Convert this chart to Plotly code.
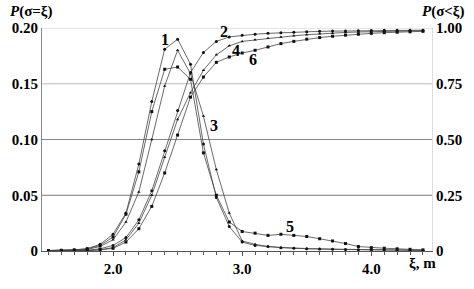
import plotly.graph_objects as go

xi = [1.5, 1.6, 1.7, 1.8, 1.9, 2.0, 2.1, 2.2, 2.3, 2.4, 2.5, 2.6, 2.7, 2.8, 2.9,
      3.0, 3.1, 3.2, 3.3, 3.4, 3.5, 3.6, 3.7, 3.8, 3.9, 4.0, 4.1, 4.2, 4.3, 4.4]

# densities P(sigma = xi) (left axis)
dens1 = [0.0005, 0.0007, 0.001, 0.002, 0.006, 0.015, 0.034, 0.078, 0.134, 0.181, 0.19, 0.1675, 0.096, 0.048, 0.022,
         0.008, 0.005, 0.004, 0.003, 0.0025, 0.002, 0.0018, 0.0015, 0.0013, 0.0012, 0.001, 0.001, 0.0008, 0.0007, 0.0006]
dens3 = [0.0003, 0.0005, 0.0008, 0.0015, 0.004, 0.01, 0.026, 0.053, 0.10, 0.148, 0.18, 0.159, 0.121, 0.073, 0.034,
         0.009, 0.006, 0.004, 0.003, 0.0025, 0.002, 0.0018, 0.0015, 0.0013, 0.0012, 0.001, 0.001, 0.0008, 0.0007, 0.0006]
dens5 = [0.0004, 0.0006, 0.001, 0.002, 0.005, 0.0125, 0.033, 0.071, 0.125, 0.163, 0.165, 0.154, 0.088, 0.05, 0.026,
         0.0175, 0.016, 0.014, 0.015, 0.014, 0.013, 0.011, 0.009, 0.0067, 0.004, 0.003, 0.0025, 0.002, 0.0015, 0.001]

# cumulative P(sigma < xi) (right axis)
cum2 = [0.0, 0.0, 0.001, 0.003, 0.01, 0.025, 0.06, 0.14, 0.27, 0.45, 0.63, 0.80, 0.89, 0.94, 0.96,
        0.967, 0.972, 0.976, 0.979, 0.981, 0.983, 0.985, 0.986, 0.987, 0.988, 0.989, 0.99, 0.99, 0.99, 0.99]
cum4 = [0.0, 0.0, 0.0, 0.002, 0.006, 0.015, 0.05, 0.125, 0.25, 0.42, 0.59, 0.71, 0.81, 0.88, 0.92,
        0.94, 0.947, 0.954, 0.96, 0.965, 0.97, 0.974, 0.977, 0.98, 0.982, 0.984, 0.985, 0.986, 0.987, 0.988]
cum6 = [0.0, 0.0, 0.0, 0.002, 0.005, 0.012, 0.04, 0.10, 0.20, 0.35, 0.52, 0.69, 0.78, 0.846, 0.87,
        0.888, 0.90, 0.915, 0.93, 0.94, 0.95, 0.957, 0.963, 0.968, 0.972, 0.976, 0.979, 0.981, 0.983, 0.985]

left_vals = [0, 0.05, 0.10, 0.15, 0.20]
left_text = ["0", "0.05", "0.10", "0.15", "0.20"]
right_vals = [0, 0.25, 0.5, 0.75, 1.0]
right_text = ["0", "0.25", "0.50", "0.75", "1.00"]
x_vals = [2.0, 3.0, 4.0]
x_text = ["2.0", "3.0", "4.0"]

labels = [("1", 2.40, 0.190), ("2", 2.86, 0.197), ("3", 2.78, 0.1125),
          ("4", 2.95, 0.180), ("5", 3.37, 0.0217), ("6", 3.08, 0.172)]

FONT = "Liberation Serif"
fig = go.Figure()

def add(y, sym, yaxis):
    fig.add_trace(go.Scatter(
        x=xi, y=y, mode="lines+markers", yaxis=yaxis,
        line=dict(color="#444444", width=0.8),
        marker=dict(symbol=sym, size=3, color="#111111"),
        showlegend=False))

add(dens1, "circle", "y")
add(dens3, "triangle-up", "y")
add(dens5, "square", "y")
add(cum2, "circle", "y2")
add(cum4, "triangle-up", "y2")
add(cum6, "square", "y2")

for t, x, y in labels:
    fig.add_annotation(x=x, y=y, xref="x", yref="y", text=t, showarrow=False,
                       font=dict(family=FONT, size=16, color="black", weight="bold"))

fig.add_annotation(x=-0.088, y=1.075, xref="paper", yref="paper", xanchor="left", yanchor="middle",
                   text="<i>P</i>(σ=ξ)", showarrow=False,
                   font=dict(family=FONT, size=15, color="black", weight="bold"))
fig.add_annotation(x=1.09, y=1.075, xref="paper", yref="paper", xanchor="right", yanchor="middle",
                   text="<i>P</i>(σ<ξ)", showarrow=False,
                   font=dict(family=FONT, size=15, color="black", weight="bold"))
fig.add_annotation(x=0.975, y=-0.055, xref="paper", yref="paper", xanchor="center", yanchor="middle",
                   text="ξ, m", showarrow=False,
                   font=dict(family=FONT, size=15, color="black", weight="bold"))

# gridlines: upper two lighter, lower two darker
for v, c in [(0.05, "#777777"), (0.10, "#888888"), (0.15, "#bbbbbb"), (0.20, "#cccccc")]:
    fig.add_hline(y=v, line=dict(color=c, width=1), layer="below")

fig.update_layout(
    width=474, height=289,
    margin=dict(l=38, r=39, t=28, b=21),
    paper_bgcolor="white", plot_bgcolor="white",
    xaxis=dict(range=[1.45, 4.47], tickvals=x_vals, ticktext=x_text,
               ticks="outside", ticklen=4, tickcolor="#555", showgrid=False,
               showline=True, linecolor="#555", linewidth=1, zeroline=False,
               minor=dict(dtick=0.1, tick0=1.5, ticks="outside", ticklen=3, tickcolor="#555", showgrid=False),
               tickfont=dict(family=FONT, size=15, color="black", weight="bold")),
    yaxis=dict(range=[0, 0.2], tickvals=left_vals, ticktext=left_text,
               showgrid=False, zeroline=False,
               showline=True, linecolor="#888", linewidth=1, ticks="",
               tickfont=dict(family=FONT, size=15, color="black", weight="bold")),
    yaxis2=dict(range=[0, 1], tickvals=right_vals, ticktext=right_text, overlaying="y", side="right",
                showgrid=False, zeroline=False, showline=True, linecolor="#dddddd", linewidth=1,
                ticks="", tickfont=dict(family=FONT, size=15, color="black", weight="bold")),
)

fig.write_html("out.html")
